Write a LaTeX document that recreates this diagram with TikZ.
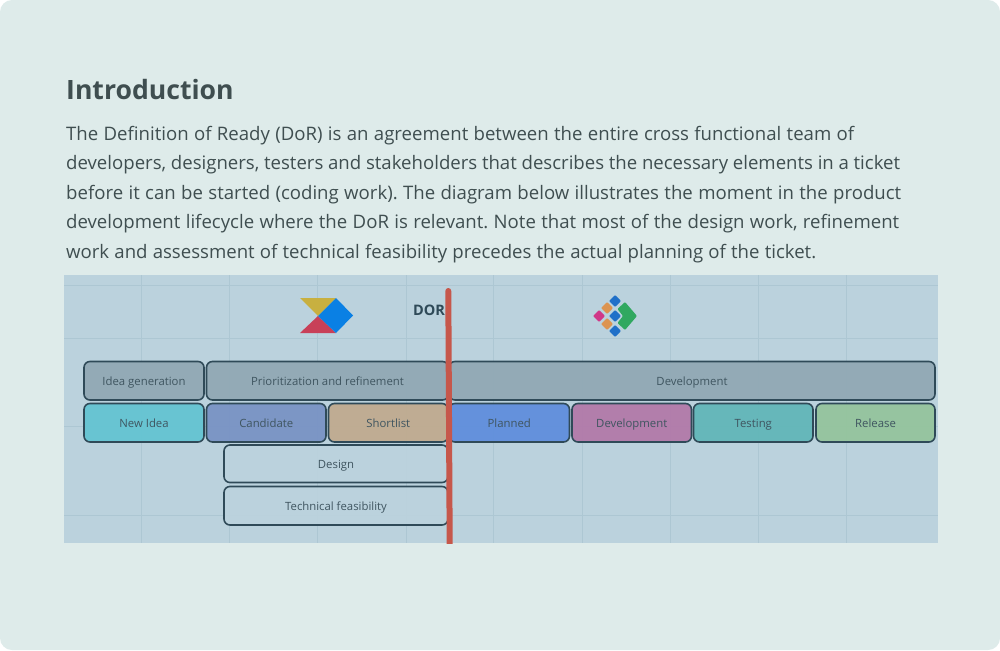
\documentclass[tikz,border=0pt]{standalone}
\usepackage{fontspec}
\setmainfont{Open Sans}
\frenchspacing
\definecolor{pagebg}{HTML}{FFFFFF}
\definecolor{cardbg}{HTML}{DEEBEA}
\definecolor{ink}{HTML}{3F4E50}
\definecolor{panel}{HTML}{BBD2DD}
\definecolor{gridc}{HTML}{ADC7D3}
\definecolor{edgec}{HTML}{2F4A58}
\definecolor{phase}{HTML}{90A8B4}
\definecolor{labelc}{HTML}{3F5560}
\definecolor{redline}{HTML}{C6574B}
\definecolor{cnew}{HTML}{62C4D2}
\definecolor{ccand}{HTML}{7892C4}
\definecolor{cshort}{HTML}{C0AA8E}
\definecolor{cplan}{HTML}{5E8DDC}
\definecolor{cdev}{HTML}{B278A8}
\definecolor{ctest}{HTML}{60B6B8}
\definecolor{crel}{HTML}{94C49C}
\definecolor{lgyel}{HTML}{C8B040}
\definecolor{lgred}{HTML}{C84058}
\definecolor{lgblu}{HTML}{0A80E4}
\definecolor{smblu}{HTML}{2070C8}
\definecolor{smora}{HTML}{DC9450}
\definecolor{smpnk}{HTML}{D03888}
\definecolor{smgrn}{HTML}{30A860}
\tikzset{
  x=1pt,y=-1pt,
  bar/.style={draw=edgec,line width=1.6pt,rounded corners=6pt,text=labelc,font=\fontsize{11.35}{13}\selectfont,text height=10.2pt,text depth=0.8pt,inner sep=0pt,outer sep=0pt,anchor=north west},
  gridline/.style={draw=gridc,line width=1pt},
  bodyline/.style={anchor=base west,text=ink,font=\fontsize{18.6}{24}\selectfont,inner sep=0pt},
  dia/.style={rounded corners=1pt}
}
\newcommand{\barnode}[7]{\node[bar,fill=#6,minimum width=#4pt,minimum height=#5pt] (#1) at (#2,#3) {#7};}
\begin{document}
\begin{tikzpicture}
\useasboundingbox (0,0) rectangle (1000,650);
\fill[pagebg] (0,0) rectangle (1000,650);
\fill[cardbg,rounded corners=12pt] (0,0) rectangle (1000,650);
\node[anchor=base west,text=ink,inner sep=0pt,font=\fontsize{26.6}{32}\selectfont\bfseries] (title) at (66,99.5) {Introduction};
\node[bodyline] (l1) at (66,140) {\makebox[788pt][s]{The Definition of Ready (DoR) is an agreement between the entire cross functional team of}};
\node[bodyline] (l2) at (66,169.5) {\makebox[834pt][s]{developers, designers, testers and stakeholders that describes the necessary elements in a ticket}};
\node[bodyline] (l3) at (66,199) {\makebox[835pt][s]{before it can be started (coding work). The diagram below illustrates the moment in the product}};
\node[bodyline] (l4) at (66,228.5) {\makebox[833pt][s]{development lifecycle where the DoR is relevant. Note that most of the design work, refinement}};
\node[bodyline] (l5) at (66,258) {\makebox[750pt][s]{work and assessment of technical feasibility precedes the actual planning of the ticket.}};
% panel and grid
\fill[panel] (64,275) rectangle (938,543);
\foreach \gx in {141,229,317,406,493,582,670,758,846}{\draw[gridline] (\gx,275) -- (\gx,543);}
\foreach \gy in {285,338,426,515}{\draw[gridline] (64,\gy) -- (938,\gy);}
% logos
\fill[lgyel] (300,298) -- (336,298) -- (318,316) -- cycle;
\fill[lgred] (318,316) -- (336,333) -- (300,333) -- cycle;
\fill[lgblu] (336,298) -- (353,315.5) -- (336,333) -- (318,316) -- cycle;
\node[anchor=base west,inner sep=0pt,text=edgec,font=\fontsize{14.5}{18}\selectfont\bfseries] (dor) at (413,315) {DOR};
\foreach \cx/\cy/\col in {615/301/smblu,615/316/smblu,615/331/smblu,607/308/smora,607/324/smora,599/316/smpnk}{
  \fill[fill=\col,dia] (\cx,\cy-6) -- (\cx+6,\cy) -- (\cx,\cy+6) -- (\cx-6,\cy) -- cycle;
}
\fill[smgrn,dia] (625,302) -- (637,316) -- (625,330) -- (617.5,323) -- (623,316) -- (617.5,309) -- cycle;
% bars
\begin{scope}[fill opacity=0.93,text opacity=1]
\barnode{ideagen}{84}{361.5}{120}{38.5}{phase}{Idea generation}
\barnode{prio}{206.5}{361.5}{242}{38.5}{phase}{Prioritization and refinement}
\barnode{devphase}{449}{361.5}{486}{38.5}{phase}{Development}
\barnode{newidea}{84}{403.5}{120}{38.5}{cnew}{New Idea}
\barnode{candidate}{206.5}{403.5}{119.5}{38.5}{ccand}{Candidate}
\barnode{shortlist}{328.5}{403.5}{119.5}{38.5}{cshort}{Shortlist}
\barnode{planned}{449}{403.5}{120.5}{38.5}{cplan}{Planned}
\barnode{devstage}{572}{403.5}{119.5}{38.5}{cdev}{Development}
\barnode{testing}{693.5}{403.5}{119.5}{38.5}{ctest}{Testing}
\barnode{release}{816}{403.5}{119}{38.5}{crel}{Release}
\barnode{design}{224}{445}{224}{37.5}{panel}{Design}
\barnode{techfeas}{224}{486.5}{224}{38.5}{panel}{Technical feasibility}
\end{scope}
% red line
\coordinate (rt) at (448.3,291);
\coordinate (rb) at (449.7,546);
\begin{scope}
\clip (400,270) rectangle (500,543);
\draw[redline,line width=6pt,line cap=round] (rt) -- (rb);
\end{scope}
\end{tikzpicture}
\end{document}
